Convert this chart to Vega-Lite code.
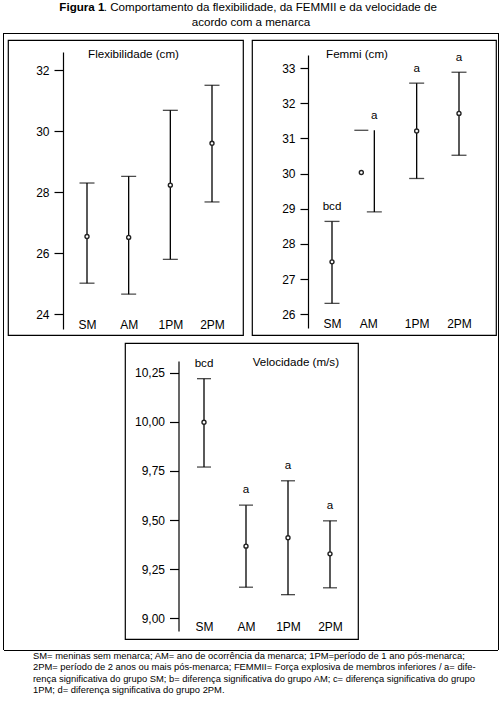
{
  "$schema": "https://vega.github.io/schema/vega-lite/v6.json",
  "padding": {"left": 3, "top": 2, "right": 2, "bottom": 2},
  "title": {
    "text": "Figura 1\u00a0\u00a0\u00a0\u00a0\u00a0\u00a0\u00a0\u00a0\u00a0\u00a0\u00a0\u00a0\u00a0\u00a0\u00a0\u00a0\u00a0\u00a0\u00a0\u00a0\u00a0\u00a0\u00a0\u00a0\u00a0\u00a0\u00a0\u00a0\u00a0\u00a0\u00a0\u00a0\u00a0\u00a0\u00a0\u00a0\u00a0\u00a0\u00a0\u00a0\u00a0\u00a0\u00a0\u00a0\u00a0\u00a0\u00a0\u00a0\u00a0\u00a0\u00a0\u00a0\u00a0\u00a0\u00a0\u00a0\u00a0\u00a0\u00a0\u00a0\u00a0\u00a0\u00a0\u00a0\u00a0\u00a0\u00a0\u00a0\u00a0\u00a0\u00a0\u00a0\u00a0\u00a0\u00a0\u00a0\u00a0\u00a0\u00a0\u00a0\u00a0\u00a0\u00a0\u00a0\u00a0\u00a0\u00a0\u00a0\u00a0\u00a0\u00a0\u00a0\u00a0\u00a0\u00a0\u00a0\u00a0\u00a0\u00a0\u00a0\u00a0\u00a0\u00a0\u00a0\u00a0\u200b",
    "subtitle": [
      "\u200b\u00a0\u00a0\u00a0\u00a0\u00a0\u00a0\u00a0\u00a0\u00a0\u00a0\u00a0\u00a0. Comportamento da flexibilidade, da FEMMII e da velocidade de",
      "acordo com a menarca"
    ],
    "anchor": "middle",
    "font": "Liberation Sans",
    "subtitleFont": "Liberation Sans",
    "fontSize": 11.6,
    "subtitleFontSize": 11.6,
    "fontWeight": "bold",
    "subtitleFontWeight": "normal",
    "color": "black",
    "subtitleColor": "black",
    "subtitlePadding": -12,
    "subtitleLineHeight": 15,
    "offset": 4
  },
  "config": {
    "font": "Liberation Sans",
    "view": {"stroke": "black", "strokeWidth": 1.2},
    "axis": {
      "grid": false,
      "domainColor": "black",
      "domainWidth": 1.2,
      "tickColor": "black",
      "tickWidth": 1.2,
      "labelColor": "black",
      "labelFont": "Liberation Sans",
      "labelFontSize": 12
    },
    "title": {"color": "black", "fontWeight": "normal", "font": "Liberation Sans"}
  },
  "datasets": {
    "flex": [
      {"grupo": "SM", "media": 26.55, "inf": 25.02, "sup": 28.3},
      {"grupo": "AM", "media": 26.52, "inf": 24.66, "sup": 28.52},
      {"grupo": "1PM", "media": 28.23, "inf": 25.8, "sup": 30.68},
      {"grupo": "2PM", "media": 29.6, "inf": 27.68, "sup": 31.5}
    ],
    "femmi": [
      {"grupo": "SM", "media": 27.49, "inf": 26.31, "sup": 28.64, "sig": "bcd"},
      {"grupo": "AM", "media": 30.03, "inf": 28.91, "sup": 31.23, "sig": "a"},
      {"grupo": "1PM", "media": 31.21, "inf": 29.86, "sup": 32.57, "sig": "a"},
      {"grupo": "2PM", "media": 31.71, "inf": 30.52, "sup": 32.88, "sig": "a"}
    ],
    "velocidade": [
      {"grupo": "SM", "media": 9.998, "inf": 9.77, "sup": 10.22, "sig": "bcd"},
      {"grupo": "AM", "media": 9.367, "inf": 9.158, "sup": 9.576, "sig": "a"},
      {"grupo": "1PM", "media": 9.41, "inf": 9.12, "sup": 9.7, "sig": "a"},
      {"grupo": "2PM", "media": 9.328, "inf": 9.155, "sup": 9.496, "sig": "a"}
    ],
    "vazio": []
  },
  "spacing": 0,
  "hconcat": [
    {"width": 1, "height": 617, "view": {"fill": "black", "stroke": null}, "data": {"name": "vazio"}, "mark": "text"},
    {
      "spacing": 0,
      "vconcat": [
        {"width": 494, "height": 1, "view": {"fill": "black", "stroke": null}, "data": {"name": "vazio"}, "mark": "text"},
        {"width": 10, "height": 5, "view": {"stroke": null}, "data": {"name": "vazio"}, "mark": "text"},
        {
          "spacing": 0,
          "hconcat": [
            {"width": 3, "height": 10, "view": {"stroke": null}, "data": {"name": "vazio"}, "mark": "text"},
            {
              "width": 235,
              "height": 295,
              "data": {"name": "flex"},
              "title": {"text": "Flexibilidade (cm)", "frame": "group", "anchor": "middle", "dx": 8, "offset": -27, "baseline": "middle", "fontSize": 11.6, "fontWeight": "normal"},
              "encoding": {
                "x": {
                  "field": "grupo", "type": "nominal", "title": null,
                  "scale": {"type": "point", "domain": ["SM", "AM", "1PM", "2PM"], "range": [79, 204], "padding": 0},
                  "axis": {"orient": "bottom", "offset": -11, "domain": false, "ticks": false, "tickSize": 0, "labelPadding": 0, "labelBaseline": "middle", "labelAngle": 0}
                }
              },
              "layer": [
                {
                  "mark": {"type": "rule", "color": "black", "strokeWidth": 1.3},
                  "encoding": {
                    "y": {
                      "field": "inf", "type": "quantitative", "title": null,
                      "scale": {"domain": [23.52, 32.59], "range": [289, 12], "nice": false, "zero": false},
                      "axis": {"orient": "left", "offset": -55, "values": [24, 26, 28, 30, 32], "tickSize": 9, "labelPadding": 5}
                    },
                    "y2": {"field": "sup"}
                  }
                },
                {
                  "mark": {"type": "tick", "color": "black", "size": 15, "thickness": 1.3},
                  "encoding": {"y": {"field": "inf", "type": "quantitative", "title": null}}
                },
                {
                  "mark": {"type": "tick", "color": "black", "size": 15, "thickness": 1.3},
                  "encoding": {"y": {"field": "sup", "type": "quantitative", "title": null}}
                },
                {
                  "mark": {"type": "point", "shape": "circle", "size": 16, "filled": false, "fill": "white", "stroke": "#222", "strokeWidth": 1.4, "opacity": 1},
                  "encoding": {"y": {"field": "media", "type": "quantitative", "title": null}}
                }
              ]
            },
            {"width": 7, "height": 10, "view": {"stroke": null}, "data": {"name": "vazio"}, "mark": "text"},
            {
              "width": 244,
              "height": 295,
              "data": {"name": "femmi"},
              "title": {"text": "Femmi (cm)", "frame": "group", "anchor": "middle", "dx": -17, "offset": -27, "baseline": "middle", "fontSize": 11.6, "fontWeight": "normal"},
              "encoding": {
                "x": {
                  "field": "grupo", "type": "nominal", "title": null,
                  "scale": {"type": "point", "domain": ["SM", "AM", "1PM", "2PM"], "range": [80, 207], "padding": 0},
                  "axis": {"orient": "bottom", "offset": -12, "domain": false, "ticks": false, "tickSize": 0, "labelPadding": 0, "labelBaseline": "middle", "labelAngle": 0,
                    "labelOffset": {"condition": {"test": "datum.value === 'AM'", "value": -6}, "value": 0}}
                }
              },
              "layer": [
                {
                  "mark": {"type": "rule", "color": "black", "strokeWidth": 1.3},
                  "encoding": {
                    "y": {
                      "field": "inf", "type": "quantitative", "title": null,
                      "scale": {"domain": [25.61, 33.37], "range": [288, 15], "nice": false, "zero": false},
                      "axis": {"orient": "left", "offset": -56, "values": [26, 27, 28, 29, 30, 31, 32, 33], "tickSize": 8, "labelPadding": 5}
                    },
                    "y2": {"field": "sup"}
                  }
                },
                {
                  "mark": {"type": "tick", "color": "black", "size": 15, "thickness": 1.3},
                  "encoding": {"y": {"field": "inf", "type": "quantitative", "title": null}}
                },
                {
                  "transform": [{"filter": "datum.grupo !== 'AM'"}],
                  "mark": {"type": "tick", "color": "black", "size": 15, "thickness": 1.3},
                  "encoding": {"y": {"field": "sup", "type": "quantitative", "title": null}}
                },
                {
                  "transform": [{"filter": "datum.grupo === 'AM'"}],
                  "mark": {"type": "tick", "color": "black", "size": 14, "thickness": 1.3, "xOffset": -13},
                  "encoding": {"y": {"field": "sup", "type": "quantitative", "title": null}}
                },
                {
                  "transform": [{"filter": "datum.grupo !== 'AM'"}],
                  "mark": {"type": "point", "shape": "circle", "size": 16, "filled": false, "fill": "white", "stroke": "#222", "strokeWidth": 1.4, "opacity": 1},
                  "encoding": {"y": {"field": "media", "type": "quantitative", "title": null}}
                },
                {
                  "transform": [{"filter": "datum.grupo === 'AM'"}],
                  "mark": {"type": "point", "shape": "circle", "size": 16, "filled": false, "fill": "white", "stroke": "#222", "strokeWidth": 1.4, "opacity": 1, "xOffset": -13},
                  "encoding": {"y": {"field": "media", "type": "quantitative", "title": null}}
                },
                {
                  "mark": {"type": "text", "fill": "black", "fontSize": 11.6, "baseline": "middle", "dy": -14},
                  "encoding": {"y": {"field": "sup", "type": "quantitative", "title": null}, "text": {"field": "sig"}}
                }
              ]
            }
          ]
        },
        {"width": 10, "height": 6, "view": {"stroke": null}, "data": {"name": "vazio"}, "mark": "text"},
        {
          "spacing": 0,
          "hconcat": [
            {"width": 120, "height": 10, "view": {"stroke": null}, "data": {"name": "vazio"}, "mark": "text"},
            {
              "width": 233,
              "height": 296,
              "data": {"name": "velocidade"},
              "title": {"text": "Velocidade (m/s)", "frame": "group", "anchor": "end", "dx": -19, "offset": -32, "baseline": "middle", "fontSize": 11.6, "fontWeight": "normal"},
              "encoding": {
                "x": {
                  "field": "grupo", "type": "nominal", "title": null,
                  "scale": {"type": "point", "domain": ["SM", "AM", "1PM", "2PM"], "range": [79, 205], "padding": 0},
                  "axis": {"orient": "bottom", "offset": -13, "domain": false, "ticks": false, "tickSize": 0, "labelPadding": 0, "labelBaseline": "middle", "labelAngle": 0}
                }
              },
              "layer": [
                {
                  "mark": {"type": "rule", "color": "black", "strokeWidth": 1.3},
                  "encoding": {
                    "y": {
                      "field": "inf", "type": "quantitative", "title": null,
                      "scale": {"domain": [8.935, 10.31], "range": [288, 18], "nice": false, "zero": false},
                      "axis": {"orient": "left", "offset": -53.5, "values": [9, 9.25, 9.5, 9.75, 10, 10.25], "tickSize": 9, "labelPadding": 5,
                        "labelExpr": "replace(format(datum.value, '.2f'), '.', ',')"}
                    },
                    "y2": {"field": "sup"}
                  }
                },
                {
                  "mark": {"type": "tick", "color": "black", "size": 14, "thickness": 1.3},
                  "encoding": {"y": {"field": "inf", "type": "quantitative", "title": null}}
                },
                {
                  "mark": {"type": "tick", "color": "black", "size": 14, "thickness": 1.3},
                  "encoding": {"y": {"field": "sup", "type": "quantitative", "title": null}}
                },
                {
                  "mark": {"type": "point", "shape": "circle", "size": 16, "filled": false, "fill": "white", "stroke": "#222", "strokeWidth": 1.4, "opacity": 1},
                  "encoding": {"y": {"field": "media", "type": "quantitative", "title": null}}
                },
                {
                  "mark": {"type": "text", "fill": "black", "fontSize": 11.6, "baseline": "middle", "dy": -15},
                  "encoding": {"y": {"field": "sup", "type": "quantitative", "title": null}, "text": {"field": "sig"}}
                }
              ]
            }
          ]
        },
        {"width": 10, "height": 10, "view": {"stroke": null}, "data": {"name": "vazio"}, "mark": "text"},
        {
          "width": 494,
          "height": 1,
          "view": {"fill": "black", "stroke": null},
          "data": {"name": "vazio"},
          "mark": "text",
          "title": {
            "text": [
              "SM= meninas sem menarca; AM= ano de ocorrência da menarca; 1PM=período de 1 ano pós-menarca;",
              "2PM= período de 2 anos ou mais pós-menarca; FEMMII= Força explosiva de membros inferiores / a= dife-",
              "rença significativa do grupo SM; b= diferença significativa do grupo AM; c= diferença significativa do grupo",
              "1PM; d= diferença significativa do grupo 2PM."
            ],
            "orient": "bottom",
            "anchor": "start",
            "frame": "group",
            "align": "left",
            "baseline": "top",
            "dx": 29,
            "offset": 1,
            "fontSize": 9.4,
            "lineHeight": 11.3,
            "fontWeight": "normal"
          }
        }
      ]
    },
    {"width": 1, "height": 617, "view": {"fill": "black", "stroke": null}, "data": {"name": "vazio"}, "mark": "text"}
  ]
}
